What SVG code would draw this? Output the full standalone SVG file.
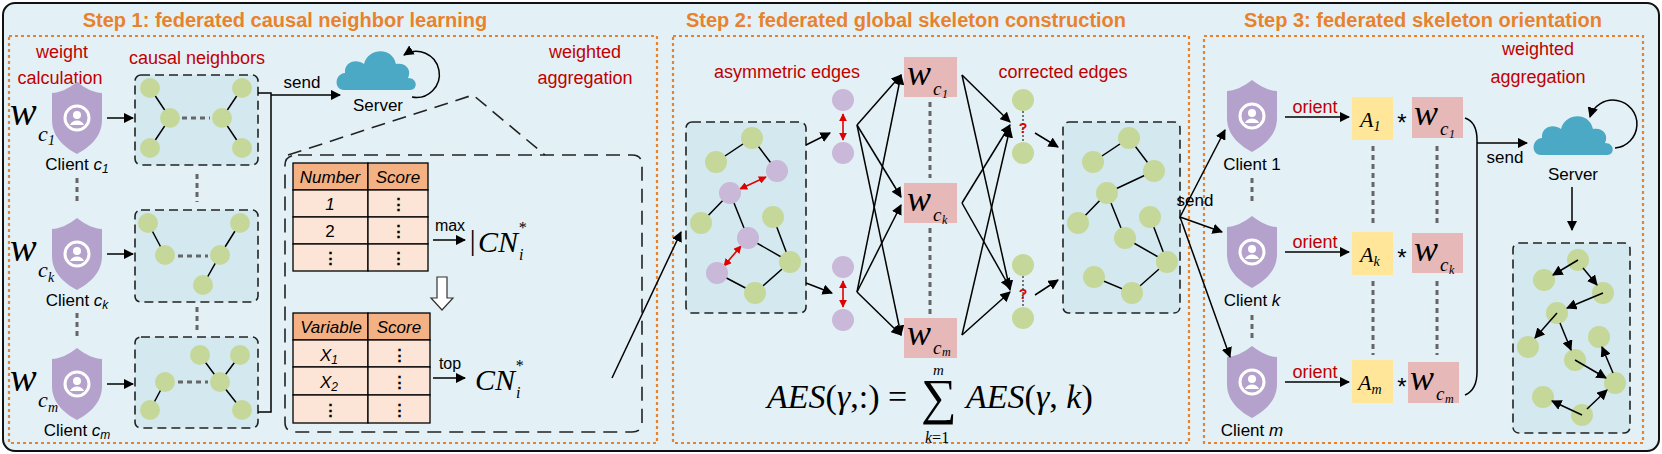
<svg xmlns="http://www.w3.org/2000/svg" width="1662" height="454" viewBox="0 0 1662 454">
<defs>
<marker id="ar" viewBox="0 0 10 10" refX="9" refY="5" markerWidth="7" markerHeight="7" orient="auto-start-reverse"><path d="M0,0 L10,5 L0,10 Z" fill="#000"/></marker>
<marker id="rr" viewBox="0 0 10 10" refX="9" refY="5" markerWidth="5" markerHeight="5" orient="auto-start-reverse"><path d="M0,0 L10,5 L0,10 Z" fill="#e00000"/></marker>
<g id="shield">
<path d="M0,-36 C9,-29 18,-25 25,-25 L25,2 C25,20 11,30 0,36 C-11,30 -25,20 -25,2 L-25,-25 C-18,-25 -9,-29 0,-36Z" fill="#b4a1cc"/>
<circle cx="0" cy="0" r="12" fill="none" stroke="#fff" stroke-width="3"/>
<circle cx="0" cy="-3" r="4" fill="#fff"/>
<path d="M-7,7 C-5,1 5,1 7,7 Z" fill="#fff"/>
</g>
<path id="cloud" d="M-34,14 C-44,14 -44,-2 -33,-3 C-34,-14 -22,-18 -14,-12 C-10,-28 14,-30 18,-12 C28,-14 34,-6 30,2 C40,2 40,14 32,14 Z" fill="#4ba9c5"/>
</defs>
<style>
.t{font-family:"Liberation Sans",Arial,sans-serif}
.ti{font-family:"Liberation Sans",Arial,sans-serif;font-size:20px;font-weight:bold;fill:#e8822c;text-anchor:middle}
.red{font-family:"Liberation Sans",Arial,sans-serif;font-size:18px;fill:#c00000;text-anchor:middle}
.lb{font-family:"Liberation Sans",Arial,sans-serif;font-size:17px;fill:#000;text-anchor:middle}
.m{font-family:"Liberation Serif","Times New Roman",serif;font-style:italic;fill:#000}
.box{fill:#d3e8ef;stroke:#222;stroke-width:1.6;stroke-dasharray:9 5}
.dot{fill:none;stroke:#e8822c;stroke-width:2.2;stroke-dasharray:3 3}
.n{fill:#c5d899}
.p{fill:#c9b8d8}
.e{stroke:#000;stroke-width:1.5;fill:none}
.a{stroke:#000;stroke-width:1.5;fill:none;marker-end:url(#ar)}
.gd{stroke:#666;stroke-width:3;stroke-dasharray:5 4;fill:none}
.hd{fill:#f4b183;stroke:#000;stroke-width:1.3}
.rw{fill:#fce4d6;stroke:#000;stroke-width:1.3}
.w{fill:#e6b8b7}
.y{fill:#ffe699}
.ra{stroke:#e00000;stroke-width:1.6;fill:none;marker-end:url(#rr);marker-start:url(#rr)}
</style>
<rect x="3" y="3" width="1656" height="448" rx="12" fill="#e3f1f6" stroke="#111" stroke-width="2"/>
<text class="ti" x="285" y="27">Step 1: federated causal neighbor learning</text>
<text class="ti" x="906" y="27">Step 2: federated global skeleton construction</text>
<text class="ti" x="1423" y="27">Step 3: federated skeleton orientation</text>
<rect class="dot" x="9" y="36" width="648" height="407"/>
<rect class="dot" x="673" y="36" width="516" height="407"/>
<rect class="dot" x="1204" y="36" width="439" height="407"/>

<g id="step1-labels">
<text class="red" x="62" y="58">weight</text>
<text class="red" x="60" y="84">calculation</text>
<text class="red" x="197" y="64">causal neighbors</text>
<text class="red" x="585" y="58">weighted</text>
<text class="red" x="585" y="84">aggregation</text>
</g>

<g id="client-c1"><use href="#shield" x="77" y="118"/>
<text class="m" x="10" y="125" font-size="40">w</text><text class="m" x="38" y="141" font-size="22">c</text><text class="m" x="48" y="145" font-size="14" font-style="normal">1</text>
<text class="lb" x="77" y="170">Client <tspan font-style="italic">c</tspan><tspan font-style="italic" font-size="12" dy="3">1</tspan></text></g>
<g id="client-ck"><use href="#shield" x="77" y="254"/>
<text class="m" x="10" y="261" font-size="40">w</text><text class="m" x="38" y="277" font-size="22">c</text><text class="m" x="48" y="282" font-size="14">k</text>
<text class="lb" x="77" y="306">Client <tspan font-style="italic">c</tspan><tspan font-style="italic" font-size="12" dy="3">k</tspan></text></g>
<g id="client-cm"><use href="#shield" x="77" y="384"/>
<text class="m" x="10" y="391" font-size="40">w</text><text class="m" x="38" y="407" font-size="22">c</text><text class="m" x="48" y="412" font-size="14">m</text>
<text class="lb" x="77" y="436">Client <tspan font-style="italic">c</tspan><tspan font-style="italic" font-size="12" dy="3">m</tspan></text></g>

<g id="nb1"><rect class="box" x="135" y="75" width="123" height="90" rx="6"/>
<path class="e" d="M150,88 L170,118 L150,148 M242,88 L222,118 L242,148"/><path class="gd" d="M182,118 H210"/>
<circle class="n" cx="150" cy="88" r="10"/><circle class="n" cx="150" cy="148" r="10"/><circle class="n" cx="170" cy="118" r="10"/><circle class="n" cx="222" cy="118" r="10"/><circle class="n" cx="242" cy="88" r="10"/><circle class="n" cx="242" cy="148" r="10"/></g>
<g id="nb2"><rect class="box" x="135" y="210" width="123" height="92" rx="6"/>
<path class="e" d="M148,223 L165,255 M240,223 L220,255 L203,285"/><path class="gd" d="M178,256 H208"/>
<circle class="n" cx="148" cy="223" r="10"/><circle class="n" cx="165" cy="255" r="10"/><circle class="n" cx="220" cy="255" r="10"/><circle class="n" cx="240" cy="223" r="10"/><circle class="n" cx="203" cy="285" r="10"/></g>
<g id="nb3"><rect class="box" x="135" y="337" width="123" height="91" rx="6"/>
<path class="e" d="M200,355 L220,382 L240,355 M220,382 L242,410 M165,382 L150,410"/><path class="gd" d="M178,382 H208"/>
<circle class="n" cx="200" cy="355" r="10"/><circle class="n" cx="240" cy="355" r="10"/><circle class="n" cx="165" cy="382" r="10"/><circle class="n" cx="220" cy="382" r="10"/><circle class="n" cx="150" cy="410" r="10"/><circle class="n" cx="242" cy="410" r="10"/></g>

<g id="server1"><use href="#cloud" x="378" y="76"/><text class="lb" x="378" y="111">Server</text></g>

<g id="agg-box">
<path d="M288,155 L473,95 L545,155" fill="none" stroke="#222" stroke-width="1.6" stroke-dasharray="14 8"/>
<path d="M298,155 H632 Q642,155 642,165 V422 Q642,432 632,432 H295 Q285,432 285,422 V165 Q285,155 298,155" fill="none" stroke="#222" stroke-width="1.6" stroke-dasharray="14 8"/>
<rect class="hd" x="293" y="163" width="75" height="27"/><rect class="hd" x="368" y="163" width="60" height="27"/>
<rect class="rw" x="293" y="190" width="75" height="27"/><rect class="rw" x="368" y="190" width="60" height="27"/>
<rect class="rw" x="293" y="217" width="75" height="27"/><rect class="rw" x="368" y="217" width="60" height="27"/>
<rect class="rw" x="293" y="244" width="75" height="27"/><rect class="rw" x="368" y="244" width="60" height="27"/>
<g class="t" font-size="17" font-style="italic" text-anchor="middle">
<text x="330" y="183">Number</text><text x="398" y="183">Score</text>
<text x="330" y="210">1</text><text x="330" y="237" font-style="normal">2</text>
<text x="330" y="264" font-weight="bold" font-style="normal">⋮</text>
<text x="398" y="210" font-weight="bold" font-style="normal">⋮</text><text x="398" y="237" font-weight="bold" font-style="normal">⋮</text><text x="398" y="264" font-weight="bold" font-style="normal">⋮</text>
</g>
<rect class="hd" x="293" y="313" width="75" height="27"/><rect class="hd" x="368" y="313" width="62" height="27"/>
<rect class="rw" x="293" y="340" width="75" height="27"/><rect class="rw" x="368" y="340" width="62" height="27"/>
<rect class="rw" x="293" y="367" width="75" height="28"/><rect class="rw" x="368" y="367" width="62" height="28"/>
<rect class="rw" x="293" y="395" width="75" height="28"/><rect class="rw" x="368" y="395" width="62" height="28"/>
<g class="t" font-size="17" font-style="italic" text-anchor="middle">
<text x="331" y="333">Variable</text><text x="399" y="333">Score</text>
<text x="329" y="361">X<tspan font-size="12" dy="3">1</tspan></text><text x="329" y="388">X<tspan font-size="12" dy="3">2</tspan></text>
<text x="330" y="416" font-weight="bold" font-style="normal">⋮</text>
<text x="399" y="361" font-weight="bold" font-style="normal">⋮</text><text x="399" y="388" font-weight="bold" font-style="normal">⋮</text><text x="399" y="416" font-weight="bold" font-style="normal">⋮</text>
</g>
<text class="t" x="450" y="231" font-size="16" text-anchor="middle">max</text>
<text class="t" x="450" y="369" font-size="16" text-anchor="middle">top</text>
<path d="M437,277 H447 V298 H453 L442,310 L431,298 H437 Z" fill="#fff" stroke="#333" stroke-width="1.2"/>
<text class="m" x="468" y="250" font-size="30" font-style="normal">|</text>
<text class="m" x="478" y="252" font-size="30">CN</text><text class="m" x="519" y="260" font-size="16">i</text><text class="m" x="518" y="233" font-size="16" font-style="normal">*</text>
<text class="m" x="475" y="390" font-size="30">CN</text><text class="m" x="516" y="398" font-size="16">i</text><text class="m" x="515" y="371" font-size="16" font-style="normal">*</text>
</g>

<g id="step2">
<text class="red" x="787" y="78">asymmetric edges</text>
<text class="red" x="1063" y="78">corrected edges</text>
<g id="g-left"><rect class="box" x="686" y="122" width="120" height="191" rx="6"/>
<path class="e" d="M716,162 L752,138 L777,171 M730,193 L701,223 M730,193 L748,238 M773,217 L790,262 M748,238 L790,262 M717,273 L755,293 L790,262"/>
<path class="ra" d="M740,189 L766,177"/><path class="ra" d="M741,246 L724,266"/>
<circle class="n" cx="716" cy="162" r="11"/><circle class="n" cx="752" cy="138" r="11"/><circle class="p" cx="777" cy="171" r="11"/><circle class="p" cx="730" cy="193" r="11"/><circle class="n" cx="701" cy="223" r="11"/><circle class="n" cx="773" cy="217" r="11"/><circle class="p" cx="748" cy="238" r="11"/><circle class="n" cx="790" cy="262" r="11"/><circle class="p" cx="717" cy="273" r="11"/><circle class="n" cx="755" cy="293" r="11"/></g>
<g id="pair-a"><circle class="p" cx="843" cy="100" r="11"/><circle class="p" cx="843" cy="153" r="11"/><path class="ra" d="M843,114 L843,140"/>
<circle class="p" cx="843" cy="267" r="11"/><circle class="p" cx="843" cy="320" r="11"/><path class="ra" d="M843,281 L843,307"/></g>
<g id="wc1"><rect class="w" x="904" y="57" width="53" height="40"/><text class="m" x="907" y="85" font-size="36">w</text><text class="m" x="933" y="95" font-size="19">c</text><text class="m" x="942" y="98" font-size="12" font-style="normal">1</text></g>
<g id="wck"><rect class="w" x="904" y="183" width="53" height="40"/><text class="m" x="907" y="211" font-size="36">w</text><text class="m" x="933" y="221" font-size="19">c</text><text class="m" x="942" y="224" font-size="12">k</text></g>
<g id="wcm"><rect class="w" x="904" y="318" width="53" height="40"/><text class="m" x="907" y="345" font-size="36">w</text><text class="m" x="933" y="354" font-size="19">c</text><text class="m" x="942" y="356" font-size="12">m</text></g>
<path class="gd" d="M930,102 V178 M930,228 V314"/>
<g id="pair-b"><circle class="n" cx="1023" cy="100" r="11"/><circle class="n" cx="1023" cy="153" r="11"/><path d="M1023,111 V142" stroke="#000" stroke-width="1" stroke-dasharray="2 2"/>
<circle class="n" cx="1023" cy="265" r="11"/><circle class="n" cx="1023" cy="318" r="11"/><path d="M1023,276 V307" stroke="#000" stroke-width="1" stroke-dasharray="2 2"/>
<text x="1023" y="133" font-family="Liberation Sans,sans-serif" font-size="14" font-weight="bold" fill="#e00000" text-anchor="middle">?</text>
<text x="1023" y="299" font-family="Liberation Sans,sans-serif" font-size="14" font-weight="bold" fill="#e00000" text-anchor="middle">?</text></g>
<g id="g-right"><rect class="box" x="1063" y="122" width="117" height="191" rx="6"/>
<path class="e" d="M1093,162 L1129,138 L1154,171 M1107,193 L1154,171 M1107,193 L1078,223 M1107,193 L1125,238 M1150,217 L1167,262 M1125,238 L1167,262 M1094,277 L1132,293 L1167,262"/>
<circle class="n" cx="1093" cy="162" r="11"/><circle class="n" cx="1129" cy="138" r="11"/><circle class="n" cx="1154" cy="171" r="11"/><circle class="n" cx="1107" cy="193" r="11"/><circle class="n" cx="1078" cy="223" r="11"/><circle class="n" cx="1150" cy="217" r="11"/><circle class="n" cx="1125" cy="238" r="11"/><circle class="n" cx="1167" cy="262" r="11"/><circle class="n" cx="1094" cy="277" r="11"/><circle class="n" cx="1132" cy="293" r="11"/></g>
<g id="formula" font-family="Liberation Serif,Times New Roman,serif" font-size="34">
<text x="767" y="408" font-style="italic">AES<tspan font-style="normal">(</tspan>γ<tspan font-style="normal">,:) =</tspan></text>
<text x="921" y="414" font-size="50">∑</text>
<text x="933" y="375" font-size="15" font-style="italic">m</text>
<text x="925" y="443" font-size="16"><tspan font-style="italic">k</tspan>=1</text>
<text x="966" y="408" font-style="italic">AES<tspan font-style="normal">(</tspan>γ<tspan font-style="normal">, </tspan>k<tspan font-style="normal">)</tspan></text>
</g>
<g id="step3">
<text class="red" x="1538" y="55">weighted</text>
<text class="red" x="1538" y="83">aggregation</text>
<g id="client1"><use href="#shield" x="1252" y="116"/><text class="lb" x="1252" y="170">Client 1</text></g>
<g id="clientk"><use href="#shield" x="1252" y="252"/><text class="lb" x="1252" y="306">Client <tspan font-style="italic">k</tspan></text></g>
<g id="clientm"><use href="#shield" x="1252" y="382"/><text class="lb" x="1252" y="436">Client <tspan font-style="italic">m</tspan></text></g>
<path class="gd" d="M1252,178 V205 M1252,315 V340"/>
<text class="red" x="1315" y="113">orient</text><text class="red" x="1315" y="248">orient</text><text class="red" x="1315" y="378">orient</text>
<g id="a1"><rect class="y" x="1352" y="97" width="41" height="43"/><text class="m" x="1360" y="127" font-size="22">A<tspan font-size="14" dy="4">1</tspan></text></g>
<g id="ak"><rect class="y" x="1352" y="232" width="41" height="43"/><text class="m" x="1360" y="262" font-size="22">A<tspan font-size="14" dy="4">k</tspan></text></g>
<g id="am"><rect class="y" x="1352" y="360" width="41" height="43"/><text class="m" x="1358" y="390" font-size="22">A<tspan font-size="14" dy="4">m</tspan></text></g>
<text class="t" x="1402" y="131" font-size="24" text-anchor="middle">*</text><text class="t" x="1402" y="266" font-size="24" text-anchor="middle">*</text><text class="t" x="1402" y="395" font-size="24" text-anchor="middle">*</text>
<g id="w1"><rect class="w" x="1412" y="97" width="51" height="41"/><text class="m" x="1414" y="125" font-size="36">w</text><text class="m" x="1440" y="135" font-size="19">c</text><text class="m" x="1449" y="138" font-size="12" font-style="normal">1</text></g>
<g id="wk"><rect class="w" x="1412" y="233" width="51" height="40"/><text class="m" x="1414" y="261" font-size="36">w</text><text class="m" x="1440" y="271" font-size="19">c</text><text class="m" x="1449" y="274" font-size="12">k</text></g>
<g id="wm"><rect class="w" x="1408" y="362" width="51" height="41"/><text class="m" x="1410" y="390" font-size="36">w</text><text class="m" x="1436" y="400" font-size="19">c</text><text class="m" x="1445" y="403" font-size="12">m</text></g>
<path class="gd" d="M1373,146 V225 M1373,281 V355 M1437,146 V225 M1437,281 V355"/>
<g id="server2"><use href="#cloud" x="1575" y="141"/><text class="lb" x="1573" y="180">Server</text></g>
<text class="lb" x="1505" y="163">send</text>
<text class="lb" x="1195" y="206">send</text>
<g id="res"><rect class="box" x="1513" y="243" width="117" height="190" rx="6"/>
<circle class="n" cx="1544" cy="280" r="11"/><circle class="n" cx="1578" cy="260" r="11"/><circle class="n" cx="1603" cy="293" r="11"/><circle class="n" cx="1557" cy="313" r="11"/><circle class="n" cx="1528" cy="347" r="11"/><circle class="n" cx="1599" cy="337" r="11"/><circle class="n" cx="1575" cy="360" r="11"/><circle class="n" cx="1615" cy="383" r="11"/><circle class="n" cx="1543" cy="397" r="11"/><circle class="n" cx="1582" cy="415" r="11"/></g>
</g>
</g>

<g id="connectors">
<path class="a" d="M107,118 H133"/><path class="a" d="M107,254 H133"/><path class="a" d="M107,384 H133"/>
<path class="gd" d="M77,178 V205 M77,313 V340 M197,174 V202 M197,307 V333"/>
<path class="e" d="M258,93 H271 V412 H258"/><path class="a" d="M271,95 H340"/>
<text class="lb" x="302" y="88">send</text>
<path class="a" d="M412,97 A23,23 0 1 0 404,55"/>
<path class="a" d="M433,240 H465"/><path class="a" d="M433,378 H465"/>
<path class="a" d="M612,378 L681,232"/>
<path class="a" d="M806,145 L830,133"/><path class="a" d="M806,283 L832,293"/>
<path class="a" d="M857,125 L901,75"/><path class="a" d="M857,125 L901,197"/><path class="a" d="M857,125 L901,335"/>
<path class="a" d="M857,292 L901,75"/><path class="a" d="M857,292 L901,205"/><path class="a" d="M857,292 L901,335"/>
<path class="a" d="M962,75 L1010,122"/><path class="a" d="M962,75 L1010,290"/>
<path class="a" d="M962,203 L1010,125"/><path class="a" d="M962,203 L1010,288"/>
<path class="a" d="M962,335 L1010,128"/><path class="a" d="M962,335 L1010,292"/>
<path class="a" d="M1035,133 L1058,147"/><path class="a" d="M1035,295 L1058,280"/>
<path class="a" d="M1180,217 L1225,130"/><path class="a" d="M1180,217 L1222,232"/><path class="a" d="M1180,217 L1230,357"/>
<path class="a" d="M1285,117 H1349"/><path class="a" d="M1285,252 H1349"/><path class="a" d="M1285,382 H1349"/>
<path class="e" d="M1465,118 Q1477,122 1477,140 V372 Q1477,390 1465,395"/>
<path class="a" d="M1477,143 H1527"/>
<path class="a" d="M1615,148 A24,24 0 1 0 1590,117"/>
<path class="a" d="M1572,187 V230"/>
<path class="a" d="M1578,260 L1553,275"/><path class="a" d="M1583,268 L1597,285"/><path class="a" d="M1603,293 L1567,308"/>
<path class="a" d="M1557,313 L1535,338"/><path class="a" d="M1560,323 L1571,350"/><path class="a" d="M1575,360 L1606,378"/>
<path class="a" d="M1613,373 L1602,347"/><path class="a" d="M1582,415 L1552,401"/><path class="a" d="M1587,409 L1607,390"/>
</g>
</svg>
